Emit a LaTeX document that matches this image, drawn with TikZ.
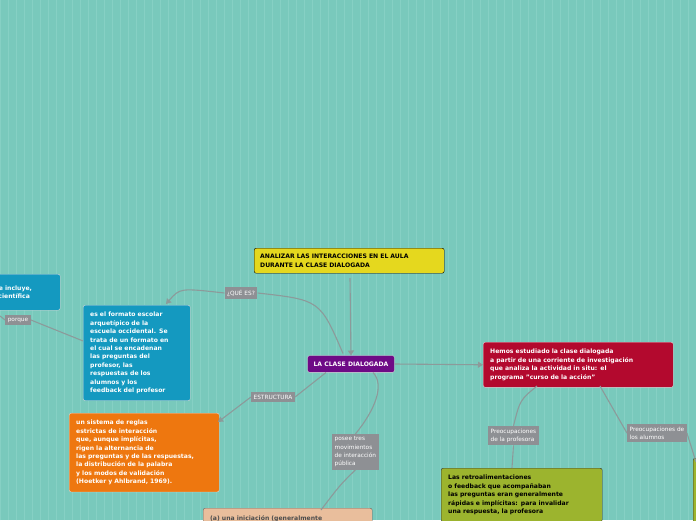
\documentclass[tikz,border=0pt]{standalone}
\usepackage{fontspec}
\setmainfont{DejaVu Sans}
\usetikzlibrary{arrows.meta}
\definecolor{bg}{HTML}{79C9BC}
\definecolor{gridc}{HTML}{86D0C4}
\definecolor{lbl}{HTML}{8E9094}
\definecolor{ln}{HTML}{8C9A9A}
\definecolor{cblue}{HTML}{1499C0}
\definecolor{cyel}{HTML}{E5D81E}
\definecolor{cred}{HTML}{B3092E}
\definecolor{cgreen}{HTML}{9CB42E}
\definecolor{corange}{HTML}{EE770F}
\definecolor{cpeach}{HTML}{E9BE9C}
\definecolor{cviolet}{HTML}{6E0A86}
\tikzset{
 box/.style={draw=white!85!black,rounded corners=2pt,fill=#1,text=white,font=\fontsize{6.1}{8.4}\selectfont\bfseries,align=left,inner sep=7pt,anchor=north west},
 lab/.style={fill=lbl,text=white,font=\fontsize{5.8}{8.4}\selectfont,align=left,inner sep=2.5pt},
 con/.style={draw=ln,line width=1.1pt},
 arr/.style={con,-{Triangle[length=5pt,width=6pt]}}
}
\begin{document}
\begin{tikzpicture}[x=1pt,y=-1pt]
\useasboundingbox (0,0) rectangle (696,520);
\clip (0,0) rectangle (696,520);
\fill[bg] (0,0) rectangle (696,520);
\draw[gridc,line width=0.4pt] (0,0) grid[step=8] (696,520);
% nodes
\node[box=cyel,text=black,draw=black,inner sep=6pt,text width=178pt] (goal) at (254,248) {ANALIZAR LAS INTERACCIONES EN EL AULA\\DURANTE LA CLASE DIALOGADA};
\node[box=cviolet,inner sep=6pt,anchor=center] (main) at (351,364) {LA CLASE DIALOGADA};
\node[box=cblue,text width=93pt] (def) at (83,305) {es el formato escolar\\arquetípico de la\\escuela occidental. Se\\trata de un formato en\\el cual se encadenan\\las preguntas del\\profesor, las\\respuestas de los\\alumnos y los\\feedback del profesor};
\node[box=cblue,minimum height=36pt,text width=64pt,inner sep=6pt] (left) at (-16,274) {que incluye,\\ la científica};
\node[box=corange,text width=136pt] (struct) at (69,413) {un sistema de reglas\\estrictas de interacción\\que, aunque implícitas,\\rigen la alternancia de\\las preguntas y de las respuestas,\\la distribución de la palabra\\y los modos de validación\\(Hoetker y Ahlbrand, 1969).};
\node[box=cred,text width=176pt] (res) at (483,342) {Hemos estudiado la clase dialogada\\a partir de una corriente de  investigación\\que analiza  la actividad  in  situ: el\\programa "curso de la acción"};
\node[box=cpeach,text=black!70,draw=black!60,text width=155pt] (peach) at (203,508) {(a) una iniciación (generalmente};
\node[box=cgreen,text=black,draw=black!80,text width=147pt] (green) at (441,468) {Las retroalimentaciones\\o feedback que acompañaban\\las preguntas eran generalmente\\rápidas e implícitas: para invalidar\\una respuesta, la profesora};
\node[box=cgreen,draw=black!80,minimum width=50pt,minimum height=70pt] (rg) at (693,458) {};
% labels
\node[lab] (q) at (241,293) {¿QUÉ ES?};
\node[lab] (p) at (18,320) {porque};
\node[lab] (e) at (273,397) {ESTRUCTURA};
\node[lab,anchor=north west] (m) at (332,434) {posee tres\\movimientos\\de interacción\\pública};
\node[lab,anchor=north west] (pp) at (488,426) {Preocupaciones\\de la profesora};
\node[lab,anchor=north west] (pa) at (627,424) {Preocupaciones de\\los  alumnos};
% connectors
\draw[arr] (350,278) -- (main.north);
\draw[con] (main.north) ++(-8,-2) .. controls (320,300) .. (q.east);
\draw[arr] (q.west) .. controls (180,288) .. (166,304);
\draw[con] (def.west) ++(0,-12) -- (p.east);
\draw[con] (p.west) -- (0,316);
\draw[con] (main.south) ++(-25,0) -- (e.east);
\draw[arr] (e.west) -- (218,422);
\draw[con] (main.south) ++(22,0) .. controls (385,385) and (375,410) .. (m.north);
\draw[con] (m.south) .. controls (340,485) .. (321,510);
\draw[arr] (main.east) -- (res.west);
\draw[con] (537,386) .. controls (520,400) .. (pp.north);
\draw[con] (pp.south) -- (512,468);
\draw[con] (600,386) -- (pa.west);
\draw[con] (pa.east) -- (696,462);
\end{tikzpicture}
\end{document}
